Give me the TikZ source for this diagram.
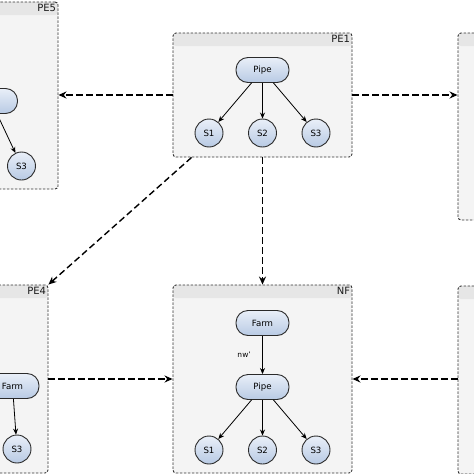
\documentclass[tikz,border=0pt]{standalone}
\usepackage{fontspec}
\setsansfont{DejaVu Sans}
\usetikzlibrary{arrows.meta}
\definecolor{boxfill}{HTML}{F4F4F4}
\definecolor{boxhead}{HTML}{E6E6E6}
\definecolor{boxline}{HTML}{333333}
\definecolor{nodetop}{HTML}{E9EFF8}
\definecolor{nodebot}{HTML}{B8CAE4}
\definecolor{nodeline}{HTML}{2A2A2A}
\tikzset{
  pebox/.style={draw=boxline, fill=boxfill, line width=0.9pt,
    dash pattern=on 2.5pt off 1.5pt, rounded corners=3pt,
    minimum width=179pt, inner sep=0pt,
    path picture={\fill[boxhead] (path picture bounding box.north west)
      rectangle ([yshift=-13pt]path picture bounding box.north east);}},
  petitle/.style={anchor=north east, inner sep=2.2pt, text=black!90,
    font=\sffamily\fontsize{10}{10}\selectfont},
  op/.style={draw=nodeline, line width=0.9pt, top color=nodetop,
    bottom color=nodebot, rounded corners=12pt, minimum width=53pt,
    minimum height=25pt, font=\sffamily\fontsize{8.6}{8.6}\selectfont},
  leaf/.style={circle, draw=nodeline, line width=0.9pt, top color=nodetop,
    bottom color=nodebot, minimum size=28pt, inner sep=0pt,
    font=\sffamily\fontsize{8.6}{8.6}\selectfont},
  link/.style={-{Stealth[length=6pt,width=5pt]}, line width=0.8pt},
  flow/.style={-{Stealth[length=8pt,width=7pt]}, line width=1.4pt,
    dash pattern=on 6.5pt off 3.5pt}
}
\begin{document}
\begin{tikzpicture}[x=1pt,y=-1pt]
  \useasboundingbox (0,0) rectangle (474,474);
  \clip (0,0) rectangle (474,474);

  \node[pebox, minimum height=187pt] (pe5) at (-31.5,95.5) {};
  \node[pebox, minimum height=124pt] (pe1) at (262.5,95) {};
  \node[pebox, minimum height=187pt] (pe2) at (547.5,126.5) {};
  \node[pebox, minimum height=188pt] (pe4) at (-41.5,379) {};
  \node[pebox, minimum height=188pt] (nf) at (262.5,379) {};
  \node[pebox, minimum height=188pt] (pe3) at (547.5,380) {};

  \node[petitle] (t5) at (pe5.north east) {PE5};
  \node[petitle] (t1) at (pe1.north east) {PE1};
  \node[petitle] (t4) at (pe4.north east) {PE4};
  \node[petitle] (tnf) at (nf.north east) {NF};

  \node[op] (pipe5) at (-9,101) {Pipe};
  \node[leaf] (s53) at (21.5,166) {S3};
  \draw[link] (pipe5) -- (s53);

  \node[op] (pipe1) at (262.5,70) {Pipe};
  \node[leaf] (s11) at (209,133) {S1};
  \node[leaf] (s12) at (262.5,133) {S2};
  \node[leaf] (s13) at (316,133) {S3};
  \draw[link] (pipe1) -- (s11);
  \draw[link] (pipe1) -- (s12);
  \draw[link] (pipe1) -- (s13);

  \node[op] (farm4) at (12.5,386) {Farm};
  \node[leaf] (s43) at (17,449) {S3};
  \draw[link] (farm4) -- (s43);

  \node[op] (farmnf) at (262.5,323) {Farm};
  \node[op] (pipenf) at (262.5,387) {Pipe};
  \node[leaf] (snf1) at (209,450) {S1};
  \node[leaf] (snf2) at (262.5,450) {S2};
  \node[leaf] (snf3) at (316,450) {S3};
  \draw[link] (farmnf) -- node[left=8pt, font=\sffamily\fontsize{7.5}{7.5}\selectfont] {nw'} (pipenf);
  \draw[link] (pipenf) -- (snf1);
  \draw[link] (pipenf) -- (snf2);
  \draw[link] (pipenf) -- (snf3);

  \draw[flow] (pe1.west) -- (pe1.west -| pe5.east);
  \draw[flow] (pe1.east) -- (pe1.east -| pe2.west);
  \draw[flow] ([xshift=19pt]pe1.south west) -- (pe4.north east);
  \draw[flow] (pe1.south) -- (nf.north);
  \draw[flow] (pe4.east) -- (nf.west);
  \draw[flow] (nf.east -| pe3.west) -- (nf.east);
\end{tikzpicture}
\end{document}
